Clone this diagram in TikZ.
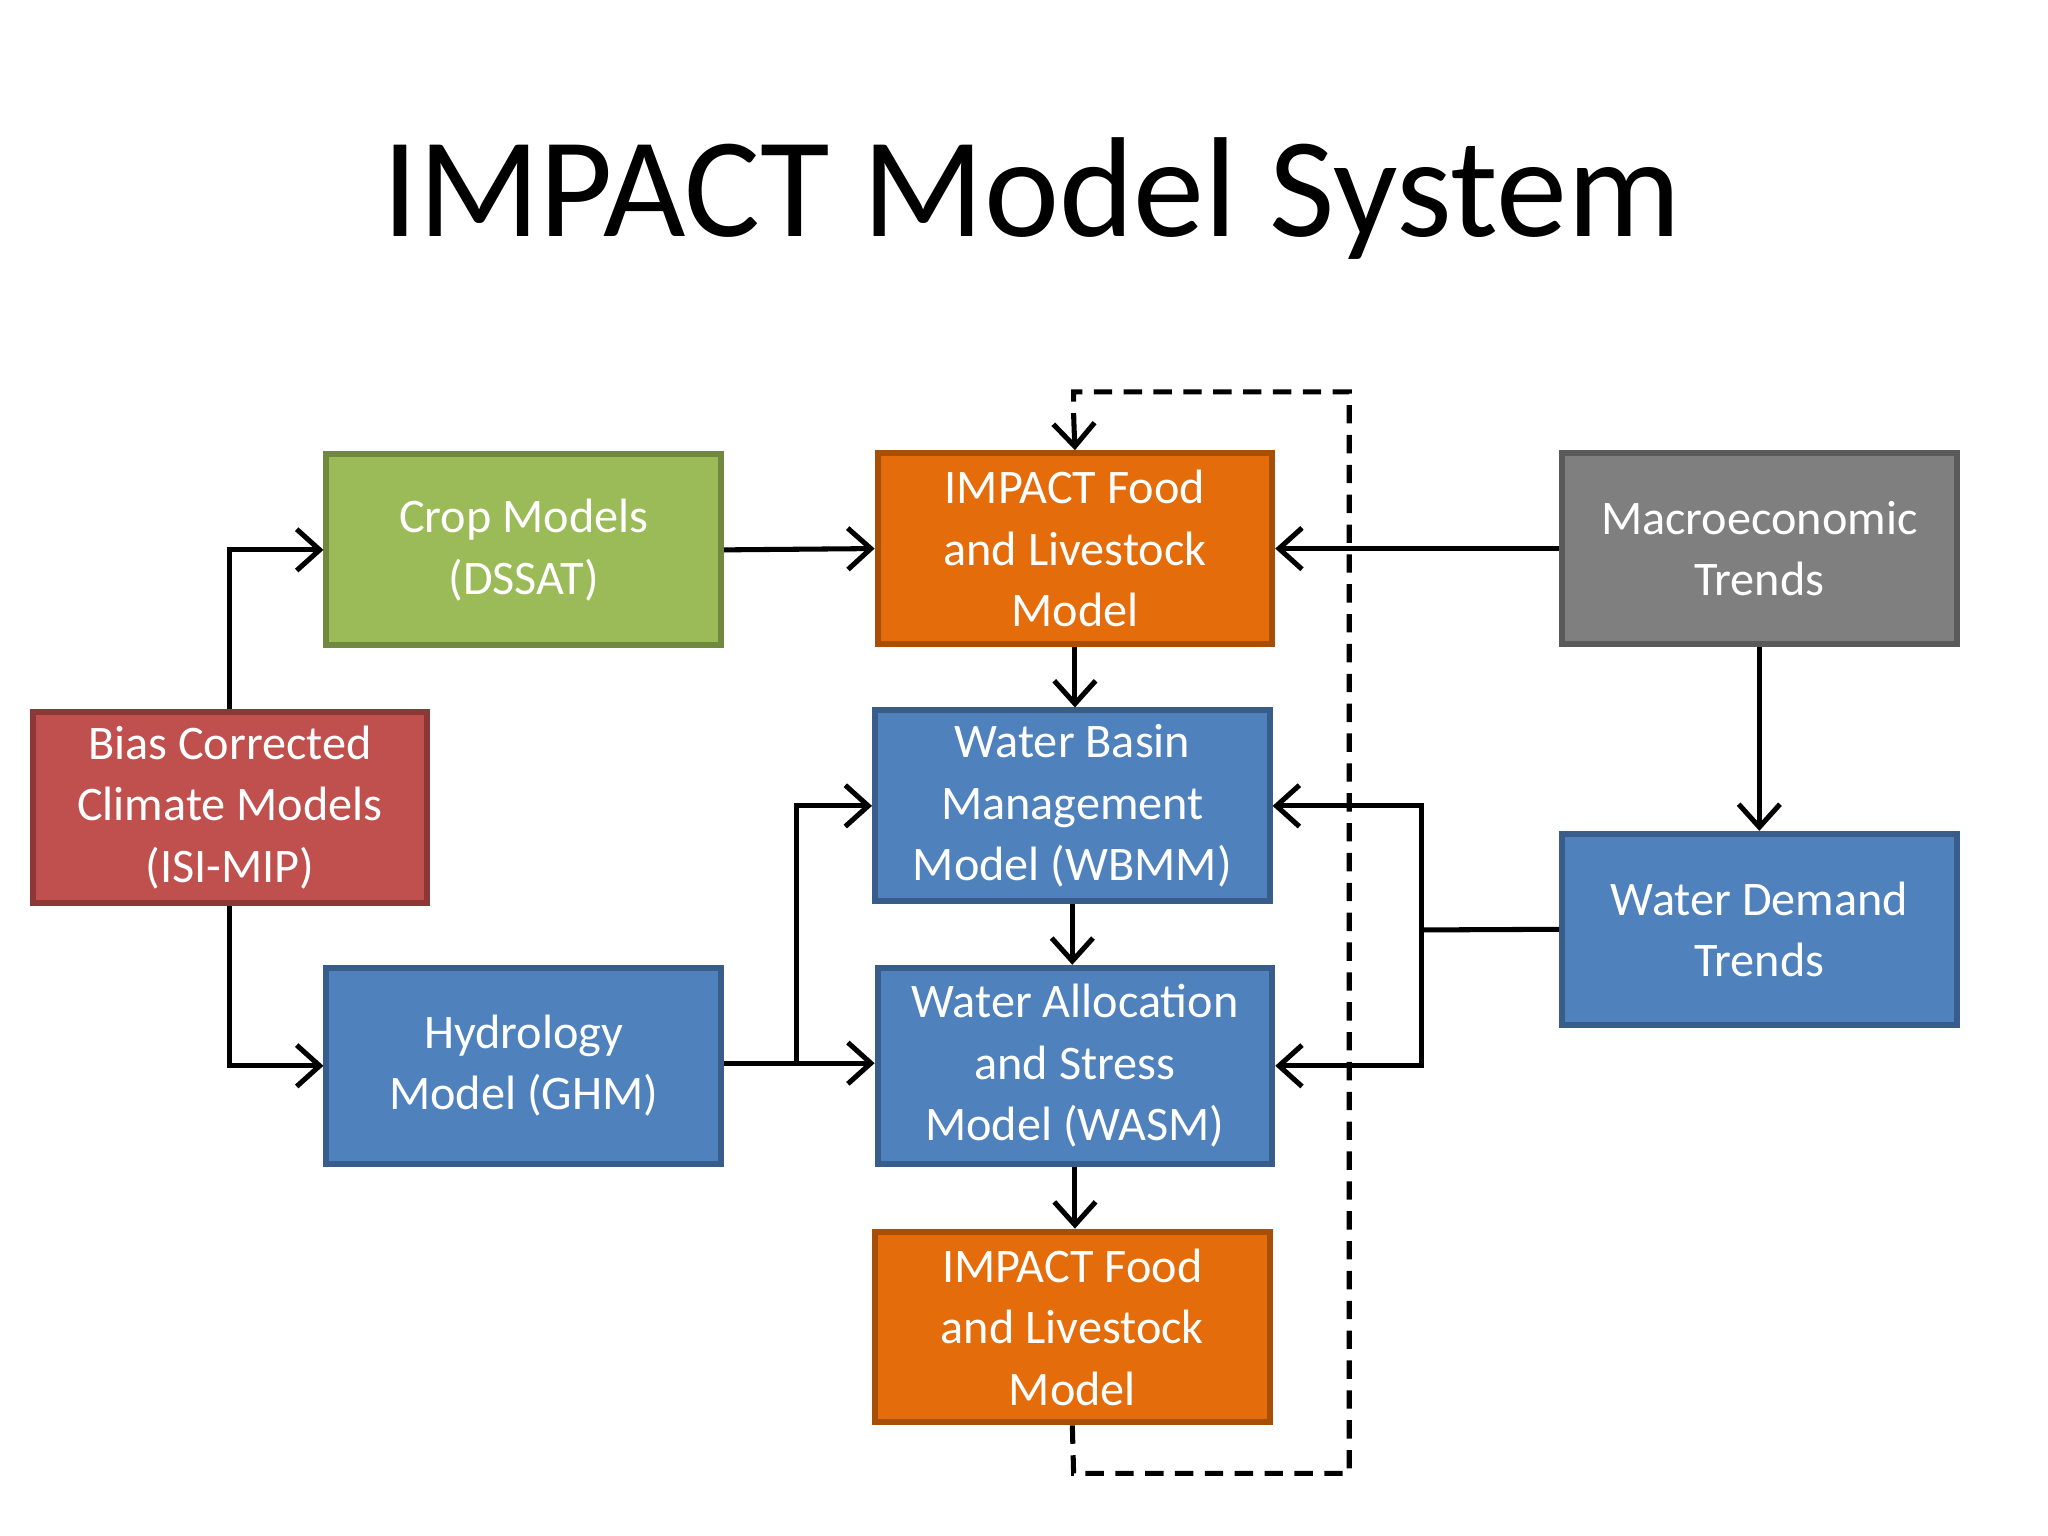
\documentclass[tikz,border=0pt]{standalone}
\usepackage{fontspec}
\setmainfont{Carlito}
\usetikzlibrary{arrows.meta}
\definecolor{gF}{HTML}{9BBB59}\definecolor{gD}{HTML}{71893F}
\definecolor{oF}{HTML}{E46C0A}\definecolor{oD}{HTML}{A84F07}
\definecolor{yF}{HTML}{7F7F7F}\definecolor{yD}{HTML}{5A5A5A}
\definecolor{rF}{HTML}{C0504D}\definecolor{rD}{HTML}{8C3836}
\definecolor{bF}{HTML}{4F81BD}\definecolor{bD}{HTML}{385D8A}
\begin{document}
\begin{tikzpicture}[x=0.01cm,y=-0.01cm,
 box/.style={draw=#1D,fill=#1F,line width=1.3pt,minimum width=3.02cm,minimum height=1.46cm,inner sep=0pt,
   text=white,align=center,font=\fontsize{10.5}{13.4}\selectfont},
 ar/.style={line width=1.1pt,-{Straight Barb[length=5pt,width=9pt,line width=1.1pt]}},
 dsh/.style={line width=1.1pt,dash pattern=on 4pt off 2.5pt}]
\useasboundingbox (0,0) rectangle (1568,1176);
\node[font=\fontsize{31}{36}\selectfont] (title) at (790,152) {IMPACT Model System};
\node[box=g] (crop) at (401,421) {Crop Models\\(DSSAT)};
\node[box=o] (imp1) at (823,420) {IMPACT Food\\and Livestock\\Model};
\node[box=y] (mac) at (1347,420) {Macroeconomic\\Trends};
\node[box=r] (bias) at (176,618) {Bias Corrected\\Climate Models\\(ISI-MIP)};
\node[box=b] (wbmm) at (821,617) {Water Basin\\Management\\Model (WBMM)};
\node[box=b] (wd) at (1347,711.5) {Water Demand\\Trends};
\node[box=b,minimum height=1.5cm] (hyd) at (401,816) {Hydrology\\Model (GHM)};
\node[box=b,minimum height=1.5cm] (wasm) at (823,816) {Water Allocation\\and Stress\\Model (WASM)};
\node[box=o] (imp2) at (821,1016) {IMPACT Food\\and Livestock\\Model};
\coordinate (j1) at (610,814);
\coordinate (j2) at (1088,712);
\draw[ar] (bias.north) |- (crop.west);
\draw[ar] (bias.south) |- (hyd.west);
\draw[ar] (crop.east) -- (imp1.west);
\draw[ar] (mac.west) -- (imp1.east);
\draw[ar] (mac.south) -- (wd.north);
\draw[ar] (imp1.south) -- (imp1.south|-wbmm.north);
\draw[ar] (wbmm.south) -- (wbmm.south|-wasm.north);
\draw[ar] (wasm.south) -- (wasm.south|-imp2.north);
\draw[ar] (hyd.east|-j1) -- (wasm.west|-j1);
\draw[ar] (j1) |- (wbmm.west);
\draw[line width=1.1pt] (wd.west) -- (j2);
\draw[ar] (j2) |- (wbmm.east);
\draw[ar] (j2) |- (wasm.east);
\draw[dsh] (imp2.south) -- (822,1128) -- (1033,1128) -- (1033,300) -- (822,300) -- (822,320);
\draw[ar] (822,318) -- (imp1.north);
\end{tikzpicture}
\end{document}
